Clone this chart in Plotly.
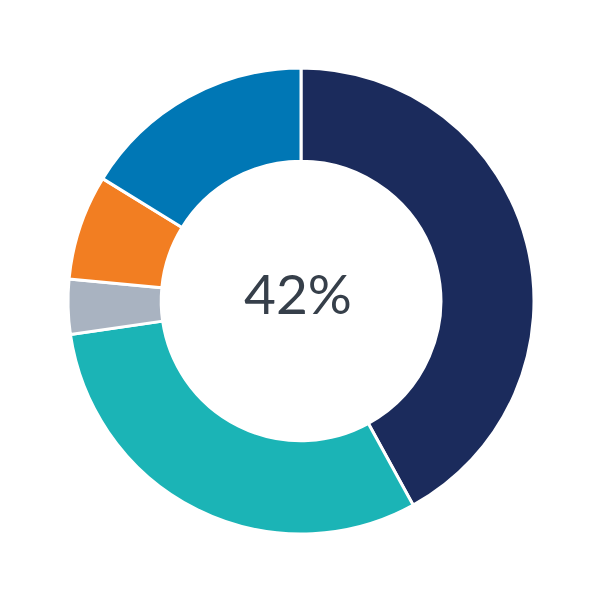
import plotly.graph_objects as go

labels = ["A", "B", "C", "D", "E"]
values = [42, 30.7, 3.8, 7.3, 16.2]
colors = ["#1b2b5c", "#1bb4b6", "#a9b3c1", "#f27e22", "#0077b5"]
center_text = "42%"

# page body has an 8px offset; shift domain to keep the ring centred at (300,300)
fig = go.Figure(go.Pie(
    labels=labels,
    values=values,
    hole=0.6,
    sort=False,
    direction="clockwise",
    rotation=0,
    marker=dict(colors=colors, line=dict(color="white", width=3)),
    textinfo="none",
    hoverinfo="skip",
    showlegend=False,
    domain=dict(x=[60/600, 526/600], y=[74/600, 540/600]),
))

fig.add_annotation(
    text=center_text, x=0.484, y=0.525, xref="paper", yref="paper",
    showarrow=False,
    font=dict(family="Lato, Open Sans, sans-serif", size=55, color="#363f4a"),
)

fig.update_layout(
    width=600, height=600,
    margin=dict(l=0, r=0, t=0, b=0),
    paper_bgcolor="white", plot_bgcolor="white",
)

fig.write_html("out.html")
